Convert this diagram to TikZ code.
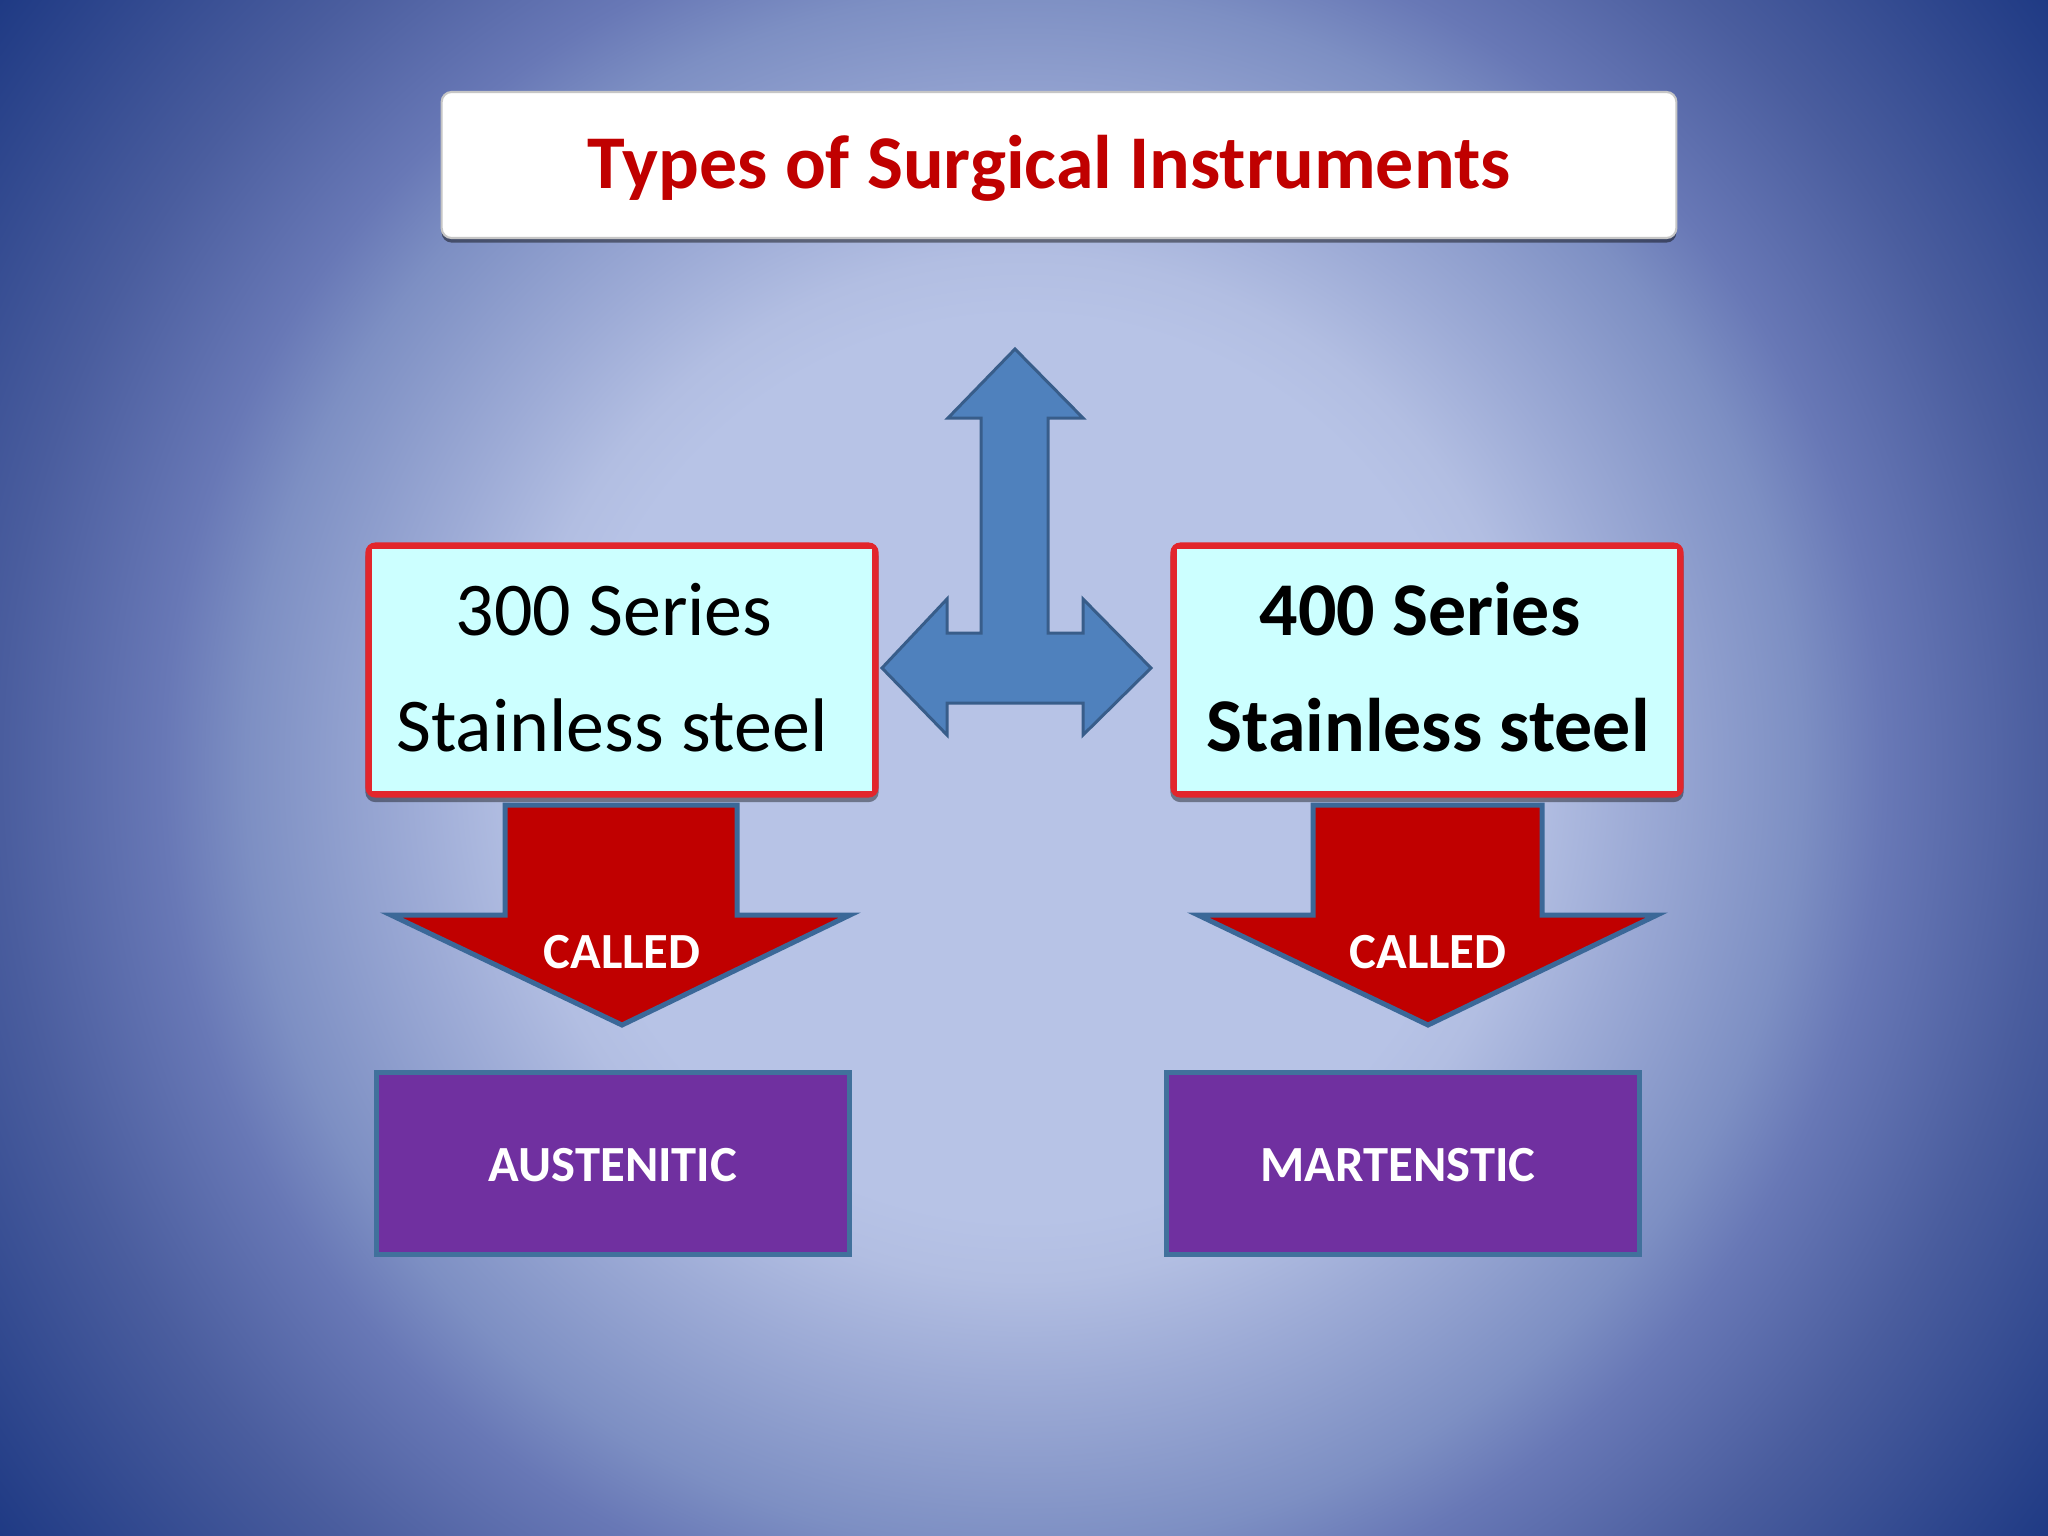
\documentclass[tikz,border=0pt]{standalone}
\usepackage{fontspec}
\setmainfont{Carlito}
\usetikzlibrary{shadows}
\definecolor{bgA}{HTML}{B7C3E6}
\definecolor{bgA2}{HTML}{B2BEE2}
\definecolor{bgB}{HTML}{9DABD6}
\definecolor{bgC}{HTML}{7D8FC3}
\definecolor{bgD}{HTML}{6878B6}
\definecolor{bgE}{HTML}{4A5D9E}
\definecolor{bgF}{HTML}{1F3A84}
\definecolor{titlered}{HTML}{C00000}
\definecolor{cyanc}{HTML}{CCFFFF}
\definecolor{framered}{HTML}{E2262C}
\definecolor{bluefill}{HTML}{4F81BD}
\definecolor{blueline}{HTML}{385D8A}
\definecolor{arrred}{HTML}{C00000}
\definecolor{arrline}{HTML}{3B6898}
\definecolor{purp}{HTML}{7030A0}
\definecolor{purpline}{HTML}{41719C}
\pgfdeclareradialshading{bgshade}{\pgfpoint{0bp}{0bp}}{color(0bp)=(bgA); color(11bp)=(bgA); color(12.5bp)=(bgA2); color(15bp)=(bgB); color(19bp)=(bgC); color(21bp)=(bgD); color(25bp)=(bgE); color(31.25bp)=(bgF); color(50bp)=(bgF)}
\tikzset{
  titlebox/.style={draw=gray!45, line width=0.6pt, fill=white, rounded corners=0.1cm,
    minimum width=12.34cm, minimum height=1.46cm, inner sep=0pt,
    drop shadow={shadow xshift=0pt, shadow yshift=-1.3pt, opacity=0.45, fill=black}},
  titlefont/.style={font=\fontsize{21.6pt}{26pt}\selectfont\bfseries, text=titlered, inner sep=0pt},
  seriesbox/.style={fill=framered, rounded corners=0.1cm, minimum width=5.13cm,
    minimum height=2.55cm, inner sep=0pt,
    drop shadow={shadow xshift=0pt, shadow yshift=-1.3pt, opacity=0.4, fill=black}},
  seriesfont/.style={font=\fontsize{21.6pt}{26pt}\selectfont, text=black, inner sep=0pt},
  blockblue/.style={fill=bluefill, draw=blueline, line width=0.85pt, line join=miter},
  blockred/.style={fill=arrred, draw=arrline, line width=1.42pt, line join=miter},
  calledfont/.style={font=\fontsize{14.4pt}{17pt}\selectfont\bfseries, text=white, inner sep=0pt},
  resultbox/.style={fill=purp, draw=purpline, line width=1.42pt, minimum width=4.72cm,
    minimum height=1.81cm, inner sep=0pt, font=\fontsize{14.4pt}{17pt}\selectfont\bfseries, text=white}
}
\begin{document}
\begin{tikzpicture}[x=0.01cm, y=-0.01cm]
\useasboundingbox (0,0) rectangle (2048,1536);
\begin{scope}
  \clip (0,0) rectangle (2048,1536);
  \shade[shading=bgshade] (0,-256) rectangle (2048,1792);
\end{scope}

% title
\node[titlebox] (tbox) at (1059,165) {};
\node[titlefont, anchor=base] (title) at (1049,188) {Types of Surgical Instruments};

% series boxes
\node[seriesbox] (s300) at (622,670) {};
\fill[cyanc] ([shift={(7,7)}]s300.north west) rectangle ([shift={(-7,-7)}]s300.south east);
\node[seriesbox] (s400) at (1427,670) {};
\fill[cyanc] ([shift={(7,7)}]s400.north west) rectangle ([shift={(-7,-7)}]s400.south east);

\node[seriesfont, anchor=base] (l1) at (614,635) {300 Series};
\node[seriesfont, anchor=base] (l2) at (612,751) {Stainless steel};
\node[seriesfont, anchor=base, font=\fontsize{21.6pt}{26pt}\selectfont\bfseries] (r1) at (1420,635) {400 Series};
\node[seriesfont, anchor=base, font=\fontsize{21.6pt}{26pt}\selectfont\bfseries] (r2) at (1428,751) {Stainless steel};

% blue three-way arrow
\draw[blockblue] (1015,349) -- (1083,418) -- (1048,418) -- (1048,633) -- (1083,633) -- (1083,599)
  -- (1151,668) -- (1083,735) -- (1083,703) -- (947,703) -- (947,735) -- (882,668) -- (947,599)
  -- (947,633) -- (981,633) -- (981,418) -- (948,418) -- cycle;

% red down arrows
\draw[blockred] (505,805) -- (737,805) -- (737,915) -- (850,915) -- (622,1025) -- (391,915) -- (505,915) -- cycle;
\draw[blockred] (1313,805) -- (1542,805) -- (1542,915) -- (1657,915) -- (1428,1025) -- (1198,915) -- (1313,915) -- cycle;
\node[calledfont, anchor=base] (c1) at (622,968) {CALLED};
\node[calledfont, anchor=base] (c2) at (1428,968) {CALLED};

% result boxes
\node[resultbox] (aus) at (613,1163.5) {};
\node[resultbox] (mar) at (1403,1163.5) {};
\node[calledfont, anchor=base] (ausT) at (613,1181) {AUSTENITIC};
\node[calledfont, anchor=base] (marT) at (1398,1181) {MARTENSTIC};
\end{tikzpicture}
\end{document}
